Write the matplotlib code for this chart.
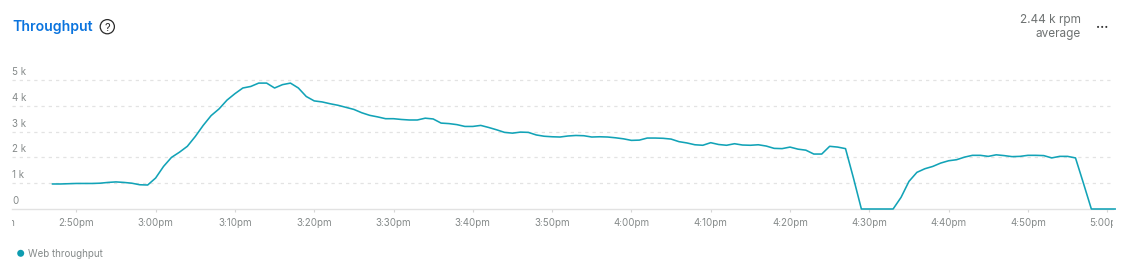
import matplotlib
matplotlib.use('Agg')
import matplotlib.pyplot as plt
import numpy as np
from matplotlib.transforms import blended_transform_factory, Bbox, TransformedBbox
from matplotlib.patches import Ellipse

plt.rcParams['font.family'] = ['Inter', 'DejaVu Sans']

# ---- data (minutes after 12:00 noon; one sample per minute from 2:47pm) ----
first_minute = 167  # 2:47pm
throughput_k = [
    0.97, 0.97, 0.98, 0.99, 0.99, 0.99, 1.00, 1.03, 1.05, 1.03, 1.00, 0.94, 0.93,   # 2:47-2:59
    1.20, 1.65, 2.00, 2.20, 2.43, 2.81, 3.24, 3.62, 3.88, 4.22,                     # 3:00-3:09
    4.47, 4.69, 4.75, 4.88, 4.88, 4.69, 4.82, 4.88, 4.69, 4.36,                     # 3:10-3:19
    4.19, 4.15, 4.08, 4.02, 3.94, 3.86, 3.73, 3.63, 3.57, 3.50,                     # 3:20-3:29
    3.50, 3.47, 3.45, 3.45, 3.52, 3.49, 3.33, 3.31, 3.27, 3.20,                     # 3:30-3:39
    3.20, 3.24, 3.16, 3.07, 2.97, 2.94, 2.98, 2.97, 2.87, 2.82,                     # 3:40-3:49
    2.80, 2.79, 2.83, 2.85, 2.84, 2.79, 2.80, 2.79, 2.76, 2.72,                     # 3:50-3:59
    2.66, 2.67, 2.75, 2.75, 2.74, 2.71, 2.61, 2.56, 2.49, 2.47,                     # 4:00-4:09
    2.57, 2.50, 2.47, 2.53, 2.48, 2.47, 2.49, 2.44, 2.35, 2.34,                     # 4:10-4:19
    2.40, 2.32, 2.28, 2.13, 2.13, 2.43, 2.40, 2.34, 1.20, 0.00,                     # 4:20-4:29
    0.00, 0.00, 0.00, 0.00, 0.45, 1.07, 1.42, 1.56, 1.65, 1.78,                     # 4:30-4:39
    1.87, 1.91, 2.01, 2.08, 2.08, 2.04, 2.10, 2.07, 2.03, 2.04,                     # 4:40-4:49
    2.08, 2.08, 2.07, 1.98, 2.04, 2.04, 1.98, 1.00, 0.00, 0.00,                     # 4:50-4:59
    0.00, 0.00,                                                                     # 5:00-5:01
]
minutes = first_minute + np.arange(len(throughput_k))

x_tick_minutes = [160, 170, 180, 190, 200, 210, 220, 230, 240, 250, 260, 270, 280, 290, 300]
x_tick_labels = ["2:40pm", "2:50pm", "3:00pm", "3:10pm", "3:20pm", "3:30pm", "3:40pm", "3:50pm",
                 "4:00pm", "4:10pm", "4:20pm", "4:30pm", "4:40pm", "4:50pm", "5:00pm"]
y_tick_values = [0, 1, 2, 3, 4, 5]
y_tick_labels = ["0", "1 k", "2 k", "3 k", "4 k", "5 k"]

title = "Throughput"
summary_value = "2.44 k rpm"
summary_label = "average"
series_name = "Web throughput"

# ---- styling ----
W, H = 1125, 274
line_color = '#12a3b7'
axis_text = '#858a8a'
grid_color = '#e3e3e3'

fig = plt.figure(figsize=(W / 100, H / 100), dpi=100)
fig.patch.set_facecolor('white')

ax_left, ax_right = 12, 1113
ax_top, ax_bottom = 70, 209
px_per_k = 25.8
ax = fig.add_axes([ax_left / W, (H - ax_bottom) / H, (ax_right - ax_left) / W, (ax_bottom - ax_top) / H])
ax.set_facecolor('none')

ax.plot(minutes, throughput_k, color=line_color, lw=1.15, clip_on=False,
        solid_joinstyle='round', zorder=3)

ax.set_xlim(161.89, 300.73)
ax.set_ylim(0, (ax_bottom - ax_top) / px_per_k)

for s in ['top', 'left', 'right']:
    ax.spines[s].set_visible(False)
ax.spines['bottom'].set_color('#e2e2e2')
ax.spines['bottom'].set_linewidth(1.0)

ax.set_yticks([v for v in y_tick_values if v > 0])
ax.yaxis.grid(True, color=grid_color, linestyle=(0, (2.6, 3.2)), linewidth=0.9)
ax.tick_params(axis='y', length=0, labelleft=False)

ax.set_xticks([m for m in x_tick_minutes if m >= 161.89])
ax.tick_params(axis='x', length=2.4, width=0.8, color='#d6d6d6', labelbottom=False)

# y labels sit above their gridlines
yblend = blended_transform_factory(ax.transAxes, ax.transData)
for v, lab in zip(y_tick_values, y_tick_labels):
    ax.annotate(lab, xy=(0, v), xycoords=yblend, xytext=(0, 5), textcoords='offset pixels',
                ha='left', va='baseline', fontsize=7, color=axis_text)

# x labels clipped to the plot width (the reference shows only the tail of "2:40pm")
xblend = blended_transform_factory(ax.transData, fig.transFigure)
clipbox = TransformedBbox(Bbox([[ax_left / W, 0], [ax_right / W, 1]]), fig.transFigure)
for m, lab in zip(x_tick_minutes, x_tick_labels):
    t = fig.text(m, (H - 226.5) / H, lab, transform=xblend, ha='center', va='baseline',
                 fontsize=7, color=axis_text)
    t.set_clip_on(True)
    t.set_clip_box(clipbox)

# header
fig.text(12 / W, (H - 30.7) / H, title, fontsize=10.1, fontweight='semibold',
         color='#0b74de', ha='left', va='baseline')
fig.add_artist(Ellipse((107.3 / W, (H - 26.7) / H), 14.2 / W, 14.2 / H,
                       facecolor='none', edgecolor='#2b2b2b', lw=0.9))
fig.text(107.4 / W, (H - 26.7) / H, "?", fontsize=8, color='#2b2b2b',
         ha='center', va='center_baseline')

fig.text(1081 / W, (H - 23.3) / H, summary_value, fontsize=8.5, color='#6e7272',
         ha='right', va='baseline')
fig.text(1081 / W, (H - 36.7) / H, summary_label, fontsize=8.5, color='#6e7272',
         ha='right', va='baseline')
fig.text(1102 / W, (H - 27.5) / H, "...", fontsize=9, fontweight='bold', color='#333333',
         ha='center', va='baseline')

# legend
fig.add_artist(Ellipse((20.7 / W, (H - 253.3) / H), 7 / W, 7 / H,
                       facecolor='#0e9cb0', edgecolor='none'))
fig.text(28.3 / W, (H - 257.3) / H, series_name, fontsize=7, color=axis_text,
         ha='left', va='baseline')

fig.savefig('out.png', dpi=100)
